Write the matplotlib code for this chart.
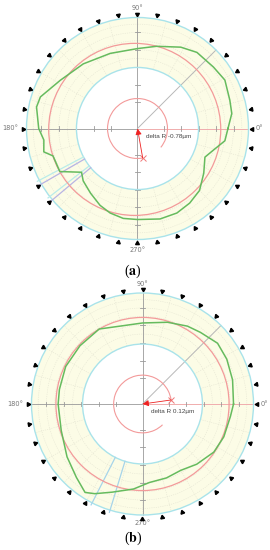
import numpy as np
import matplotlib
matplotlib.use("Agg")
import matplotlib.pyplot as plt
from matplotlib.patches import Circle, Wedge, Arc

plt.rcParams['mathtext.fontset'] = 'stix'

# measured profiles (angle in degrees, radius relative to outer circle)
a_ang = [0, 9, 17, 29, 39, 52, 62, 77, 90, 110, 130, 148, 162, 168, 180, 187, 194,
         198, 209, 218, 224, 234, 244, 252, 261, 270, 284, 295, 305, 315, 326,
         337, 344, 352, 360]
a_rad = [0.815, 0.86, 0.87, 0.90, 0.88, 0.87, 0.83, 0.76, 0.72, 0.72, 0.76, 0.82,
         0.92, 0.93, 0.89, 0.85, 0.87, 0.80, 0.80, 0.64, 0.68, 0.72, 0.77, 0.80,
         0.82, 0.82, 0.84, 0.84, 0.82, 0.79, 0.72, 0.66, 0.71, 0.795, 0.815]

b_ang = [0, 15, 28, 39, 51, 60, 73, 90, 106, 120, 137, 154, 170, 180, 198, 215,
         228, 237, 242, 251, 264, 275, 288, 300, 312, 326, 338, 352, 360]
b_rad = [0.82, 0.84, 0.86, 0.87, 0.83, 0.81, 0.77, 0.73, 0.73, 0.78, 0.77, 0.77,
         0.76, 0.76, 0.77, 0.83, 0.89, 0.95, 0.915, 0.84, 0.77, 0.71, 0.70, 0.69,
         0.73, 0.775, 0.79, 0.80, 0.82]

panels = [
    dict(ang=a_ang, rad=a_rad, ref_r=0.775, ref_c=(-0.025, -0.008), inner=0.55,
         delta=-0.78, vec_ang=280, vec_r=0.27, arc=(-39, 280), label='a',
         cuts=[210, 220], cut_col='#b8b4e4', cut_twin=True, bottom_lab=-1.095),
    dict(ang=b_ang, rad=b_rad, ref_r=0.78, ref_c=(0.0, 0.0), inner=0.54,
         delta=0.12, vec_ang=8, vec_r=0.26, arc=(8, 314), label='b',
         cuts=[243, 253], cut_col='#a6d4ea', cut_twin=False, bottom_lab=-1.07),
]

W, H = 270, 550
R = 111.0
centers = [(137.5, 128.5), (142.5, 404.0)]
spans = [(0, 256), (281, 531)]

fig = plt.figure(figsize=(W / 100, H / 100), dpi=100)

cyan = '#a9e3ea'
red = '#f39a9a'
green = '#66bb5e'
gray = '#9a9a9a'
grid = '#e4e4d2'

for p, (cx, cy), (top, bot) in zip(panels, centers, spans):
    ax = fig.add_axes([0, 1 - bot / H, 1, (bot - top) / H])
    ax.set_xlim(-cx / R, (W - cx) / R)
    ax.set_ylim(-(bot - cy) / R, (cy - top) / R)
    ax.set_aspect('auto')
    ax.axis('off')

    # band and circles
    ax.add_patch(Wedge((0, 0), 1.0, 0, 360, width=1.0 - p['inner'],
                       facecolor='#fcfce6', edgecolor='none', zorder=0))
    for rr in [0.63, 0.71, 0.79, 0.865, 0.94]:
        ax.add_patch(Circle((0, 0), rr, fill=False, ec=grid, lw=0.4,
                            ls=(0, (2, 2)), zorder=1))
    for t in np.arange(0, 360, 15):
        th = np.radians(t)
        ax.plot([p['inner'] * np.cos(th), np.cos(th)],
                [p['inner'] * np.sin(th), np.sin(th)],
                color=grid, lw=0.4, ls=(0, (2, 2)), zorder=1)
    ax.add_patch(Circle((0, 0), 1.0, fill=False, ec=cyan, lw=1.0, zorder=3))
    ax.add_patch(Circle((0, 0), p['inner'], fill=False, ec=cyan, lw=1.0, zorder=3))

    # axes with ticks
    ax.plot([-1, 1], [0, 0], color=gray, lw=0.6, zorder=2)
    ax.plot([0, 0], [-1, 1], color=gray, lw=0.6, zorder=2)
    ax.plot([0, 1], [0, 0], color='#f3b0b0', lw=0.7, zorder=2)
    for tk in [0.235, 0.39, 0.55, 0.71, 0.865]:
        for s in (-1, 1):
            ax.plot([s * tk, s * tk], [-0.022, 0.022], color=gray, lw=0.6, zorder=2)
            ax.plot([-0.022, 0.022], [s * tk, s * tk], color=gray, lw=0.6, zorder=2)

    # 45 degree line
    d = np.radians(45)
    ax.plot([0, np.cos(d)], [0, np.sin(d)], color='#b8b8b8', lw=0.7, zorder=2)

    # cut lines
    for c in p['cuts']:
        th = np.radians(c)
        ax.plot([p['inner'] * np.cos(th), 1.02 * np.cos(th)],
                [p['inner'] * np.sin(th), 1.02 * np.sin(th)],
                color=p['cut_col'], lw=0.9, zorder=4)
        if p['cut_twin']:
            th2 = np.radians(c - 2.2)
            ax.plot([p['inner'] * np.cos(th2), 1.02 * np.cos(th2)],
                    [p['inner'] * np.sin(th2), 1.02 * np.sin(th2)],
                    color='#b9ecea', lw=0.9, zorder=4)

    # reference circle
    ax.add_patch(Circle(p['ref_c'], p['ref_r'], fill=False, ec=red, lw=0.9, zorder=5))

    # measured profile
    th = np.radians(p['ang'])
    r = np.array(p['rad'])
    ax.plot(r * np.cos(th), r * np.sin(th), color=green, lw=1.1, zorder=6)

    # eccentricity vector and arc
    ax.add_patch(Arc((0, 0), 2 * p['vec_r'], 2 * p['vec_r'], theta1=p['arc'][0],
                     theta2=p['arc'][1], ec=red, lw=0.8, zorder=5))
    vt = np.radians(p['vec_ang'])
    vx, vy = p['vec_r'] * np.cos(vt), p['vec_r'] * np.sin(vt)
    ax.plot([vx], [vy], marker='x', color='#f07878', ms=4, mew=0.7, zorder=7)
    ax.annotate('', xy=(0, 0), xytext=(vx, vy),
                arrowprops=dict(arrowstyle='-|>', color='#ee2222', lw=0.6,
                                mutation_scale=9, shrinkA=0, shrinkB=0), zorder=7)
    ax.text(0.08, -0.07, 'delta R %s%.2fµm' % ('-' if p['delta'] < 0 else '', abs(p['delta'])),
            fontsize=4.6, color='#444444', family='Liberation Sans', ha='left', va='center',
            zorder=8)

    # outer markers every 10 degrees
    for t in range(0, 360, 10):
        tr = np.radians(t)
        ax.plot([1.035 * np.cos(tr)], [1.035 * np.sin(tr)],
                marker=(3, 0, t + 90), color='black', ms=3.2, ls='none', zorder=8)

    lab_kw = dict(fontsize=4.8, color='#777777', family='DejaVu Sans')
    ax.text(0, 1.085, '90°', ha='center', va='center', **lab_kw)
    ax.text(0, p['bottom_lab'], '270°', ha='center', va='center', **lab_kw)
    ax.text(1.065, 0, '0°', ha='left', va='center', **lab_kw)
    ax.text(-1.07, 0, '180°', ha='right', va='center', **lab_kw)

fig.text(133 / W, 1 - 271 / H, r'($\mathbf{a}$)', ha='center', va='center',
         fontsize=10, family='Liberation Serif')
fig.text(133 / W, 1 - 538 / H, r'($\mathbf{b}$)', ha='center', va='center',
         fontsize=10, family='Liberation Serif')

fig.savefig('out.png', dpi=100, facecolor='white')
